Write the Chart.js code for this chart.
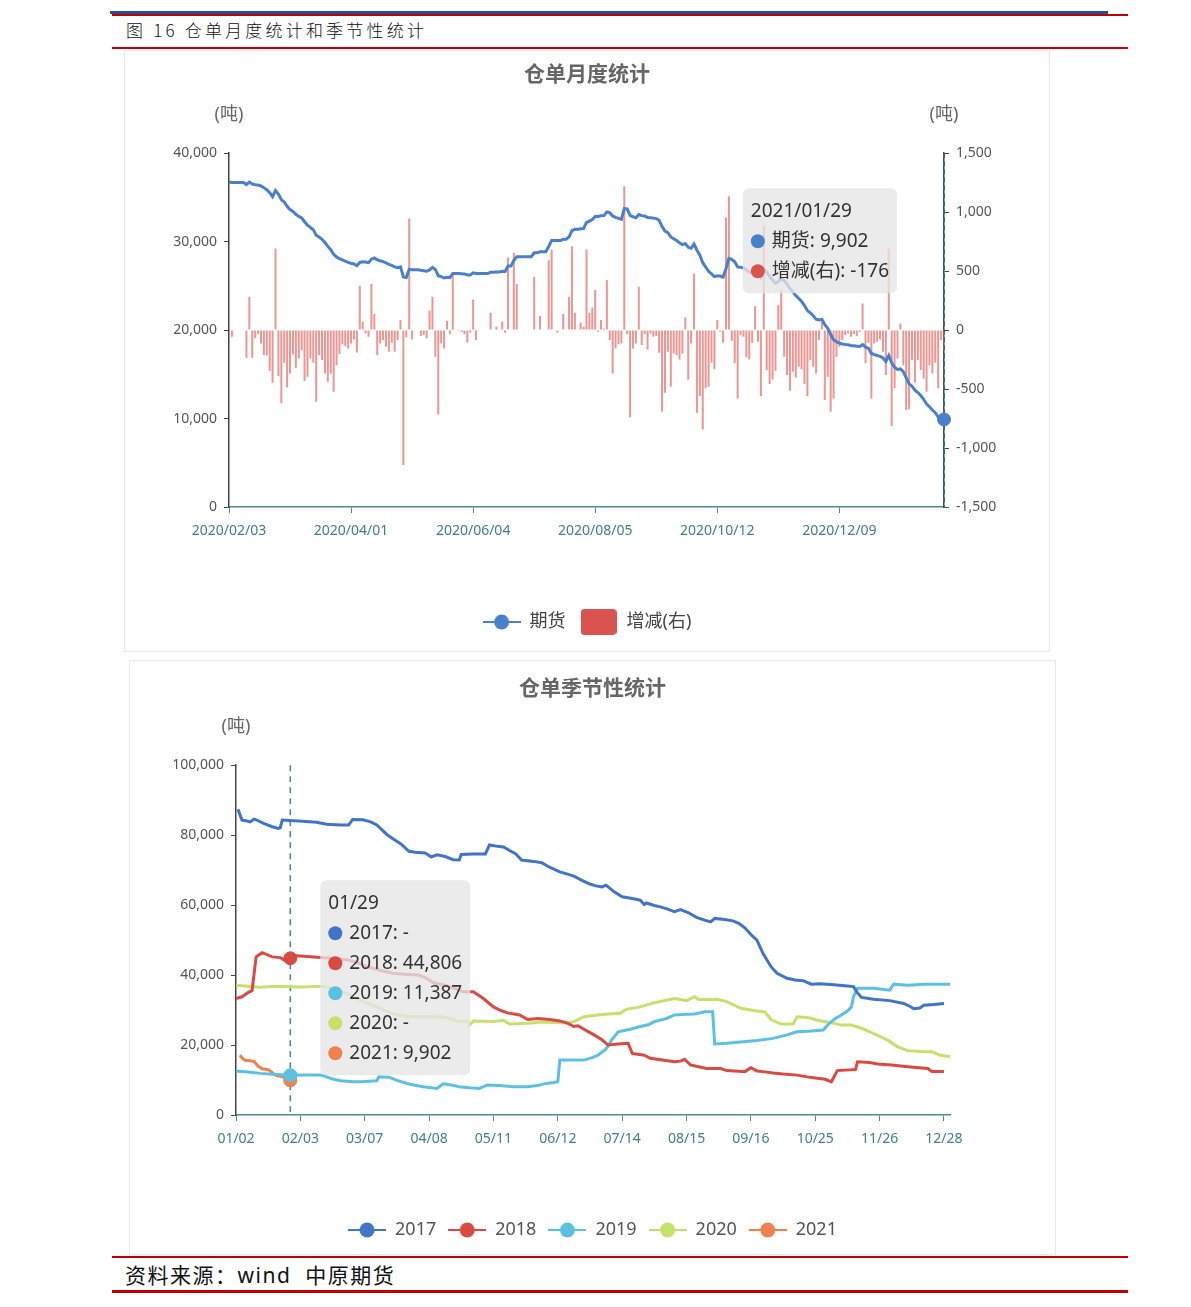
<!DOCTYPE html>
<html lang="zh-CN">
<head>
<meta charset="UTF-8">
<title>仓单月度统计和季节性统计</title>
<script src="https://cdn.jsdelivr.net/npm/chart.js@4.4.1/dist/chart.umd.min.js"></script>
<style>
  body { margin: 0; background: #fff; width: 1191px; height: 1307px; position: relative; overflow: hidden;
         font-family: "Noto Sans", "Noto Sans CJK SC", sans-serif; }
  .rule { position: absolute; }
  .caption { position: absolute; left: 126px; top: 19px; font-size: 17px; line-height: 22px; letter-spacing: 3.2px;
             color: #111; font-family: "Noto Sans CJK SC", sans-serif; font-weight: 300; white-space: pre; }
  .source { position: absolute; left: 125px; top: 1260px; font-size: 21px; line-height: 30px; letter-spacing: 1.5px;
            color: #111; white-space: pre; font-family: "Noto Sans", "Noto Sans CJK SC", sans-serif; }
  .panel { position: absolute; box-shadow: inset 0 0 0 1px #e9e9e9; }
  .panel canvas { position: absolute; left: 0; top: 0; }
</style>
</head>
<body>
  <div class="rule" style="left:110px;top:11px;width:998px;height:3px;background:#24508f"></div>
  <div class="rule" style="left:112px;top:14px;width:1016px;height:2px;background:#c00000"></div>
  <div class="caption">图 16 仓单月度统计和季节性统计</div>
  <div class="rule" style="left:112px;top:47px;width:1016px;height:2px;background:#c00000"></div>

  <div class="panel" style="left:124px;top:50px;width:926px;height:602px">
    <canvas id="monthly" width="926" height="602"></canvas>
  </div>
  <div class="panel" style="left:129px;top:660px;width:927px;height:595px">
    <canvas id="seasonal" width="927" height="595"></canvas>
  </div>

  <div class="rule" style="left:112px;top:1256px;width:1016px;height:2px;background:#c00000"></div>
  <div class="source">资料来源：wind  中原期货</div>
  <div class="rule" style="left:112px;top:1290px;width:1016px;height:3px;background:#c00000"></div>

<script>
// ---- data: monthly chart (trading days 2020/02/03 .. 2021/01/29) ----
const HOLIDAYS = ['2020/04/06', '2020/05/01', '2020/05/04', '2020/05/05', '2020/06/25', '2020/06/26',
  '2020/10/01', '2020/10/02', '2020/10/05', '2020/10/06', '2020/10/07', '2020/10/08', '2021/01/01'];

const FUTURES = [
  36750, 36690, 36690, 36690, 36690, 36690, 36460, 36740, 36510, 36440,
  36410, 36300, 36090, 35880, 35530, 35080, 35770, 35380, 34760, 34480,
  33990, 33620, 33410, 33090, 32850, 32680, 32250, 31860, 31620, 31340,
  30730, 30520, 30270, 29900, 29460, 29090, 28570, 28270, 28070, 27950,
  27810, 27660, 27550, 27470, 27280, 27650, 27720, 27690, 27630, 28020,
  28160, 27950, 27840, 27750, 27610, 27430, 27320, 27140, 27050, 27140,
  26000, 25940, 26890, 26810, 26810, 26810, 26760, 26720, 26650, 26810,
  27090, 26860, 26150, 26040, 25890, 25970, 25940, 26410, 26410, 26400,
  26380, 26350, 26240, 26220, 26480, 26400, 26390, 26390, 26390, 26390,
  26540, 26540, 26570, 26570, 26640, 26620, 27240, 27240, 27900, 28290,
  28290, 28290, 28290, 28290, 28290, 28740, 28740, 28860, 28860, 28860,
  29450, 30140, 30140, 30120, 30120, 30260, 30260, 30540, 31250, 31400,
  31400, 31460, 31490, 32170, 32320, 32510, 32850, 32840, 32920, 32940,
  33360, 33280, 32910, 32750, 32640, 32520, 33740, 33710, 32970, 32810,
  32700, 33070, 32940, 32910, 32740, 32710, 32660, 32610, 32410, 31720,
  31190, 31010, 30530, 30330, 30120, 29870, 29670, 29780, 29360, 29250,
  29730, 29030, 28470, 27620, 27130, 26650, 26370, 26040, 26130, 26110,
  26000, 26960, 28100, 28010, 27720, 27140, 27100, 27040, 26810, 26560,
  26460, 26660, 26560, 26000, 26890, 26550, 26080, 25660, 25300, 25500,
  25830, 25600, 25210, 24680, 24320, 23910, 23590, 23240, 22780, 22210,
  21940, 21620, 21240, 21150, 21210, 20610, 20200, 19500, 18910, 18680,
  18520, 18430, 18380, 18340, 18270, 18230, 18170, 18140, 18360, 18070,
  17950, 17360, 17240, 17130, 17040, 16850, 16460, 17140, 16310, 15810,
  15560, 15610, 15300, 14610, 13930, 13660, 13210, 12940, 12600, 12180,
  11640, 11340, 10960, 10670, 10170, 10070, 9902
];

const CHANGE = [
  0, -57, 0, 0, 0, 0, -234, 282, -234, -70,
  -34, -113, -212, -212, -347, -446, 692, -390, -621, -277,
  -486, -367, -206, -319, -240, -170, -432, -395, -240, -277,
  -607, -212, -254, -367, -438, -367, -523, -297, -203, -119,
  -136, -155, -113, -79, -189, 373, 71, -28, -57, 390,
  136, -212, -113, -85, -141, -184, -107, -184, -85, 85,
  -1144, -60, 946, -79, 0, 0, -51, -42, -70, 164,
  282, -226, -715, -113, -155, 79, -34, 466, 0, -8,
  -17, -34, -107, -23, 260, -85, -6, 0, 0, 0,
  147, 0, 28, 0, 71, -23, 616, 0, 655, 390,
  0, 0, 0, 0, 0, 452, 0, 119, 0, 0,
  593, 684, 0, -23, 0, 136, 0, 282, 712, 147,
  0, 62, 28, 684, 147, 192, 339, -14, 85, 14,
  424, -85, -367, -155, -119, -113, 1220, -34, -740, -155,
  -113, 367, -127, -34, -164, -28, -57, -51, -192, -692,
  -531, -184, -480, -198, -212, -249, -198, 107, -418, -113,
  480, -701, -559, -842, -494, -480, -277, -333, 85, -14,
  -107, 955, 1136, -90, -282, -579, -42, -57, -232, -249,
  -107, 203, -99, -559, 890, -340, -458, -418, -345, 212,
  339, -226, -381, -514, -353, -401, -311, -333, -458, -559,
  -254, -311, -367, -85, 71, -593, -395, -692, -579, -226,
  -141, -85, -42, -28, -57, -34, -51, -14, 226, -282,
  -107, -579, -113, -99, -79, -184, -381, 692, -814, -494,
  -240, 56, -297, -678, -672, -254, -446, -254, -339, -410,
  -523, -297, -367, -277, -494, -85, -176
];

// ---- data: seasonal chart ----
const SEASON_SKIP = ['01/01', '05/01', '10/01', '10/02', '10/03', '10/04', '10/05', '10/06', '10/07'];
const HOVER_DATE = '01/29';

const Y2017 = [
  ['01/03', 87400], ['01/04', 85800], ['01/05', 84300], ['01/07', 84100], ['01/09', 83800], ['01/11', 84600],
  ['01/12', 84400], ['01/16', 83300], ['01/20', 82400], ['01/23', 81900], ['01/24', 82100], ['01/25', 84300],
  ['02/04', 84000], ['02/11', 83700], ['02/16', 83100], ['02/23', 82900], ['02/27', 82900], ['03/01', 84500],
  ['03/06', 84400], ['03/10', 83800], ['03/13', 82900], ['03/18', 80200], ['03/21', 79000], ['03/25', 77500],
  ['03/29', 75400], ['04/01', 75100], ['04/06', 74900], ['04/09', 73800], ['04/12', 74400], ['04/16', 73900],
  ['04/20', 73000], ['04/23', 72900], ['04/24', 74500], ['04/30', 74600], ['05/07', 74600], ['05/09', 77200],
  ['05/13', 76800], ['05/16', 76600], ['05/19', 75600], ['05/22', 74700], ['05/25', 72900], ['05/31', 72500],
  ['06/04', 72100], ['06/07', 71100], ['06/10', 70300], ['06/13', 69500], ['06/16', 69000], ['06/20', 68300],
  ['06/24', 67100], ['06/28', 66000], ['07/01', 65500], ['07/04', 65200], ['07/06', 65700], ['07/10', 63800],
  ['07/14', 62400], ['07/19', 61900], ['07/23', 61400], ['07/25', 60200], ['07/26', 60600], ['07/30', 59900],
  ['08/02', 59500], ['08/06', 58800], ['08/09', 58100], ['08/12', 58700], ['08/16', 57800], ['08/20', 56500],
  ['08/24', 55700], ['08/27', 55200], ['08/29', 56200], ['09/03', 55900], ['09/07', 55500], ['09/10', 54800],
  ['09/13', 53500], ['09/16', 51600], ['09/19', 50000], ['09/22', 46200], ['09/26', 42400], ['09/29', 40500],
  ['10/11', 39100], ['10/15', 38600], ['10/19', 38400], ['10/23', 37400], ['10/27', 37500], ['10/31', 37400],
  ['11/06', 37100], ['11/10', 36900], ['11/13', 36700], ['11/15', 34900], ['11/17', 33600], ['11/23', 33100],
  ['12/01', 32700], ['12/08', 31900], ['12/11', 31100], ['12/13', 30400], ['12/16', 30600], ['12/18', 31400],
  ['12/23', 31600], ['12/28', 31900]
];

const Y2018 = [
  ['01/02', 33300], ['01/05', 33800], ['01/08', 35000], ['01/10', 35600], ['01/12', 45200], ['01/15', 46400],
  ['01/20', 45200], ['01/24', 45000], ['01/26', 44300], ['01/29', 44806], ['02/01', 45500], ['02/05', 45400],
  ['02/11', 45100], ['02/19', 44800], ['02/27', 44300], ['03/03', 43600], ['03/08', 42400], ['03/15', 41300],
  ['03/21', 40500], ['03/28', 40200], ['04/03', 40000], ['04/07', 39000], ['04/10', 37800], ['04/14', 37300],
  ['04/18', 36700], ['04/23', 35700], ['04/25', 35200], ['04/30', 35200], ['05/06', 33300], ['05/11', 30900],
  ['05/15', 29800], ['05/18', 29200], ['05/24', 28600], ['05/28', 27300], ['06/02', 27600], ['06/08', 27300],
  ['06/13', 26900], ['06/17', 26200], ['06/20', 25300], ['06/22', 25500], ['06/25', 24500], ['06/30', 22900],
  ['07/04', 21500], ['07/07', 20000], ['07/12', 20300], ['07/17', 20500], ['07/19', 17600], ['07/25', 17100],
  ['07/28', 16200], ['08/03', 15700], ['08/09', 15200], ['08/12', 15400], ['08/14', 15900], ['08/17', 14300],
  ['08/21', 13800], ['08/25', 13300], ['09/01', 13300], ['09/04', 12700], ['09/10', 12500], ['09/13', 12400],
  ['09/16', 13500], ['09/19', 12600], ['09/22', 12400], ['09/27', 12000], ['10/09', 11700], ['10/16', 11400],
  ['10/21', 10900], ['10/26', 10500], ['10/30', 10200], ['11/02', 9500], ['11/05', 12700], ['11/11', 12900],
  ['11/14', 13000], ['11/15', 15200], ['11/21', 15000], ['11/25', 14600], ['12/02', 14300], ['12/10', 13800],
  ['12/20', 13300], ['12/22', 12400], ['12/28', 12400]
];

const Y2019 = [
  ['01/02', 12600], ['01/08', 12300], ['01/14', 11900], ['01/22', 11600], ['01/29', 11387], ['02/06', 11400],
  ['02/13', 11400], ['02/15', 11100], ['02/19', 10300], ['02/23', 9800], ['03/01', 9500], ['03/05', 9500],
  ['03/13', 9800], ['03/14', 10900], ['03/19', 10800], ['03/23', 9900], ['03/28', 9000], ['04/01', 8500],
  ['04/05', 8100], ['04/12', 7600], ['04/15', 8900], ['04/19', 8600], ['04/23', 8100], ['04/28', 7800],
  ['05/04', 7600], ['05/08', 8600], ['05/14', 8400], ['05/21', 8100], ['05/28', 8100], ['06/02', 8400],
  ['06/05', 8900], ['06/10', 9300], ['06/12', 9500], ['06/13', 15700], ['06/20', 15700], ['06/25', 15700],
  ['06/29', 16400], ['07/02', 17100], ['07/06', 18900], ['07/09', 21600], ['07/12', 23800], ['07/18', 24500],
  ['07/23', 25300], ['07/27', 25800], ['07/30', 26700], ['08/05', 27600], ['08/09', 28600], ['08/15', 28800],
  ['08/19', 28900], ['08/24', 29500], ['08/28', 29500], ['08/29', 20300], ['09/04', 20500], ['09/11', 20900],
  ['09/19', 21300], ['09/27', 21900], ['10/11', 22900], ['10/16', 23800], ['10/23', 24000], ['10/29', 24300],
  ['11/01', 26200], ['11/04', 27600], ['11/07', 28600], ['11/10', 29700], ['11/12', 30900], ['11/13', 33800],
  ['11/15', 36200], ['11/23', 36200], ['12/01', 35700], ['12/03', 37400], ['12/10', 37100], ['12/18', 37400],
  ['12/31', 37400]
];

const Y2020 = [
  ['01/02', 37100], ['01/08', 36800], ['01/14', 36500], ['01/19', 36700], ['01/24', 36700], ['02/03', 36600],
  ['02/11', 36700], ['02/15', 36700], ['02/19', 36200], ['02/26', 34800], ['03/05', 32800], ['03/13', 30900],
  ['03/21', 28900], ['03/28', 28100], ['04/07', 28100], ['04/15', 28000], ['04/20', 27300], ['04/23', 26700],
  ['04/27', 26900], ['04/28', 25700], ['04/30', 26900], ['05/11', 26700], ['05/16', 27100], ['05/19', 26000],
  ['05/28', 26200], ['06/04', 26600], ['06/13', 26400], ['06/17', 26400], ['06/20', 26700], ['06/25', 28100],
  ['07/02', 28600], ['07/07', 28900], ['07/13', 29100], ['07/16', 30200], ['07/23', 30900], ['07/30', 32100],
  ['08/03', 32600], ['08/09', 33300], ['08/12', 33000], ['08/15', 32700], ['08/19', 33800], ['08/21', 33000],
  ['08/30', 33100], ['09/04', 32400], ['09/11', 30500], ['09/18', 29800], ['09/23', 29500], ['09/26', 27300],
  ['10/08', 26000], ['10/14', 26000], ['10/16', 28100], ['10/21', 27900], ['10/26', 27100], ['11/02', 26400],
  ['11/07', 25700], ['11/12', 25700], ['11/17', 24800], ['11/23', 23300], ['11/30', 21400], ['12/05', 19500],
  ['12/10', 18400], ['12/18', 18100], ['12/22', 18100], ['12/26', 17100], ['12/31', 16700]
];

const Y2021 = [
  ['01/04', 17140], ['01/05', 16310], ['01/06', 15810], ['01/07', 15560], ['01/08', 15610], ['01/11', 15300],
  ['01/12', 14610], ['01/13', 13930], ['01/14', 13660], ['01/15', 13210], ['01/18', 12940], ['01/19', 12600],
  ['01/20', 12180], ['01/21', 11640], ['01/22', 11340], ['01/25', 10960], ['01/26', 10670], ['01/27', 10170],
  ['01/28', 10070], ['01/29', 9902]
];

const SERIES = [
  { label: '2017', data: Y2017, color: '#3f74c8' },
  { label: '2018', data: Y2018, color: '#d94a43' },
  { label: '2019', data: Y2019, color: '#5cc1e1' },
  { label: '2020', data: Y2020, color: '#c4e16c' },
  { label: '2021', data: Y2021, color: '#f0804f' }
];

const TICK_EVERY_MONTHLY = 42;
const TICK_EVERY_SEASONAL = 32;

// ---- helpers ----
const FONT = '"Noto Sans", "Noto Sans CJK SC", sans-serif';
const BLUE = '#4a7fcc';
const RED = '#d9534f';
const TEAL = '#3f7f89';
const fmt = v => v.toLocaleString('en-US');
const pad2 = n => String(n).padStart(2, '0');

function tradingDays(start, end, holidays) {
  const out = [];
  const d = new Date(start + 'T00:00:00Z');
  const last = new Date(end + 'T00:00:00Z');
  while (d <= last) {
    const s = d.getUTCFullYear() + '/' + pad2(d.getUTCMonth() + 1) + '/' + pad2(d.getUTCDate());
    const wd = d.getUTCDay();
    if (wd !== 0 && wd !== 6 && !holidays.includes(s)) out.push(s);
    d.setUTCDate(d.getUTCDate() + 1);
  }
  return out;
}

function seasonDays(skip) {
  const out = [];
  const d = new Date('2019-01-01T00:00:00Z');
  while (d.getUTCFullYear() === 2019) {
    const s = pad2(d.getUTCMonth() + 1) + '/' + pad2(d.getUTCDate());
    if (!skip.includes(s)) out.push(s);
    d.setUTCDate(d.getUTCDate() + 1);
  }
  return out;
}

function lineIcon(color) {
  const c = document.createElement('canvas');
  c.width = 38; c.height = 18;
  const g = c.getContext('2d');
  g.strokeStyle = color; g.lineWidth = 2;
  g.beginPath(); g.moveTo(0, 9); g.lineTo(38, 9); g.stroke();
  g.fillStyle = color;
  g.beginPath(); g.arc(19, 9, 7.5, 0, Math.PI * 2); g.fill();
  return c;
}

function barIcon(color) {
  const c = document.createElement('canvas');
  c.width = 36; c.height = 26;
  const g = c.getContext('2d');
  g.fillStyle = color;
  g.beginPath(); g.roundRect(0, 0, 36, 26, 4); g.fill();
  return c;
}

const DATES = tradingDays('2020-02-03', '2021-01-29', HOLIDAYS);
const SEASON_LABELS = seasonDays(SEASON_SKIP);
const HOVER_INDEX = DATES.length - 1;

// overlay: unit labels, axis pointer and the pinned tooltip box
const overlay = {
  id: 'overlay',
  beforeDatasetsDraw(chart, args, o) {
    const { ctx, chartArea } = chart;
    const x = chart.scales.x.getPixelForValue(o.index);
    ctx.save();
    ctx.strokeStyle = o.pointerColor;
    ctx.lineWidth = o.pointerWidth;
    ctx.setLineDash(o.dash);
    ctx.beginPath();
    ctx.moveTo(x, chartArea.top);
    ctx.lineTo(x, chartArea.bottom);
    ctx.stroke();
    ctx.restore();
  },
  afterDraw(chart, args, o) {
    const { ctx, chartArea } = chart;
    ctx.save();
    ctx.font = '18px ' + FONT;
    ctx.fillStyle = '#666';
    ctx.textAlign = 'center';
    ctx.textBaseline = 'middle';
    o.units.forEach(id => {
      const s = chart.scales[id];
      const x = s.position === 'left' ? s.right : s.left;
      ctx.fillText('(吨)', x, chartArea.top - 38);
    });

    const b = o.box;
    ctx.font = '19px ' + FONT;
    ctx.textAlign = 'left';
    let w = ctx.measureText(b.title).width + 16;
    b.rows.forEach(r => { w = Math.max(w, ctx.measureText(r.text).width + 37); });
    const h = 45 + 30 * b.rows.length;
    const px = chart.scales.x.getPixelForValue(o.index);
    const left = b.side === 'left' ? px - b.gap - w : px + b.gap;
    const top = chartArea.top + b.top;
    ctx.fillStyle = 'rgba(230,230,230,0.78)';
    ctx.beginPath();
    ctx.roundRect(left, top, w, h, 6);
    ctx.fill();
    ctx.fillStyle = '#333';
    ctx.fillText(b.title, left + 8, top + 23);
    b.rows.forEach((r, i) => {
      const y = top + 23 + 30 * (i + 1);
      ctx.fillStyle = r.color;
      ctx.beginPath(); ctx.arc(left + 15, y, 7, 0, Math.PI * 2); ctx.fill();
      ctx.fillStyle = '#333';
      ctx.fillText(r.text, left + 29, y);
    });
    ctx.restore();
  }
};

Chart.defaults.font.family = FONT;
Chart.defaults.color = '#555';

const yGrid = { drawOnChartArea: false, drawTicks: true, tickLength: 5, color: '#444' };
const yBorder = { color: '#444', width: 1.5 };
const yTicks = { font: { size: 14 }, color: '#555', padding: 7 };
const xGrid = { drawOnChartArea: false, drawTicks: true, tickLength: 6, color: '#4d8b94', offset: false };
const xBorder = { color: '#4d8b94', width: 1.5 };
const xTicks = { font: { size: 14 }, color: TEAL, padding: 10, autoSkip: false, maxRotation: 0 };

// ---- chart 1: 仓单月度统计 ----
const monthlyIcons = [lineIcon(BLUE), barIcon(RED)];
new Chart(document.getElementById('monthly'), {
  type: 'bar',
  data: {
    labels: DATES,
    datasets: [
      {
        type: 'line', label: '期货', data: FUTURES, yAxisID: 'y', order: 0, clip: false,
        borderColor: BLUE, backgroundColor: BLUE, borderWidth: 3, tension: 0,
        pointRadius: c => c.dataIndex === HOVER_INDEX ? 6.5 : 0,
        pointBackgroundColor: BLUE, pointBorderColor: BLUE, pointBorderWidth: 1
      },
      {
        type: 'bar', label: '增减(右)', data: CHANGE, yAxisID: 'y1', order: 1,
        backgroundColor: 'rgba(217,83,79,0.6)', categoryPercentage: 1, barPercentage: 0.7
      }
    ]
  },
  options: {
    responsive: false, animation: false, events: [], locale: 'en-US',
    layout: { padding: { left: 0, right: 0, top: 0, bottom: 11 } },
    plugins: {
      title: { display: true, text: '仓单月度统计', color: '#666', font: { size: 21, weight: 'bold' },
               padding: { top: 12, bottom: 66 } },
      legend: {
        position: 'bottom',
        labels: {
          usePointStyle: true, pointStyleWidth: 38, padding: 14, color: '#444', font: { size: 18 },
          generateLabels: chart => Chart.defaults.plugins.legend.labels.generateLabels(chart)
            .map(l => Object.assign(l, { pointStyle: monthlyIcons[l.datasetIndex] }))
        }
      },
      tooltip: { enabled: false },
      overlay: {
        index: HOVER_INDEX, pointerColor: '#2f6c74', pointerWidth: 2, dash: [5, 3], units: ['y', 'y1'],
        box: {
          side: 'left', gap: 47, top: 35, title: DATES[HOVER_INDEX],
          rows: [
            { color: BLUE, text: '期货: ' + fmt(FUTURES[HOVER_INDEX]) },
            { color: RED, text: '增减(右): ' + fmt(CHANGE[HOVER_INDEX]) }
          ]
        }
      }
    },
    scales: {
      x: {
        offset: false, grid: xGrid, border: xBorder, ticks: xTicks,
        afterBuildTicks: s => { s.ticks = s.ticks.filter(t => t.value % TICK_EVERY_MONTHLY === 0); },
        afterFit: s => { s.height = 92; }
      },
      y: {
        position: 'left', min: 0, max: 40000, ticks: Object.assign({ stepSize: 10000 }, yTicks),
        grid: yGrid, border: yBorder, afterFit: s => { s.width = 105; }
      },
      y1: {
        position: 'right', min: -1500, max: 1500, ticks: Object.assign({ stepSize: 500 }, yTicks),
        grid: yGrid, border: yBorder, afterFit: s => { s.width = 106; }
      }
    }
  },
  plugins: [overlay]
});

// ---- chart 2: 仓单季节性统计 ----
const hoverIdx = SEASON_LABELS.indexOf(HOVER_DATE);
const seasonRows = SERIES.map(s => {
  const hit = s.data.find(p => p[0] === HOVER_DATE);
  return { color: s.color, text: s.label + ': ' + (hit ? fmt(hit[1]) : '-') };
});
const seasonIcons = SERIES.map(s => lineIcon(s.color));

new Chart(document.getElementById('seasonal'), {
  type: 'line',
  data: {
    labels: SEASON_LABELS,
    datasets: SERIES.map(s => ({
      label: s.label, data: s.data, clip: false,
      borderColor: s.color, backgroundColor: s.color, borderWidth: 3, tension: 0,
      pointRadius: c => (c.raw && c.raw[0] === HOVER_DATE) ? 6.5 : 0,
      pointBackgroundColor: s.color, pointBorderColor: s.color, pointBorderWidth: 1
    }))
  },
  options: {
    responsive: false, animation: false, events: [], locale: 'en-US',
    layout: { padding: { left: 0, right: 0, top: 0, bottom: 6 } },
    plugins: {
      title: { display: true, text: '仓单季节性统计', color: '#666', font: { size: 21, weight: 'bold' },
               padding: { top: 16, bottom: 64 } },
      legend: {
        position: 'bottom',
        labels: {
          usePointStyle: true, pointStyleWidth: 38, padding: 12, color: '#555', font: { size: 18 },
          generateLabels: chart => Chart.defaults.plugins.legend.labels.generateLabels(chart)
            .map(l => Object.assign(l, { pointStyle: seasonIcons[l.datasetIndex] }))
        }
      },
      tooltip: { enabled: false },
      overlay: {
        index: hoverIdx, pointerColor: '#4d8b94', pointerWidth: 1.6, dash: [6, 5], units: ['y'],
        box: { side: 'right', gap: 30, top: 115, title: HOVER_DATE, rows: seasonRows }
      }
    },
    scales: {
      x: {
        offset: false, grid: xGrid, border: xBorder, ticks: xTicks,
        afterBuildTicks: s => { s.ticks = s.ticks.filter(t => t.value % TICK_EVERY_SEASONAL === 0); },
        afterFit: s => { s.height = 94; }
      },
      y: {
        position: 'left', min: 0, max: 100000, ticks: Object.assign({ stepSize: 20000 }, yTicks),
        grid: yGrid, border: yBorder, afterFit: s => { s.width = 107; }
      },
      // empty right-hand gutter so the plot keeps the reference margins
      gutter: {
        position: 'right', display: true, ticks: { display: false }, grid: { display: false },
        border: { display: false }, afterFit: s => { s.width = 106; }
      }
    }
  },
  plugins: [overlay]
});
</script>
</body>
</html>
